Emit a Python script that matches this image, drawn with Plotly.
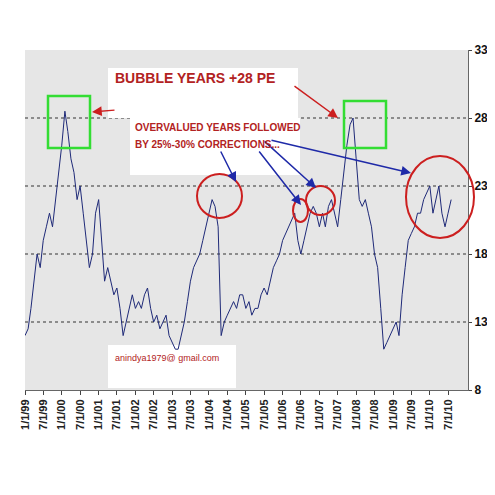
import plotly.graph_objects as go
import pandas as pd

pe = [12,12.5,14,16,18,17,19,20,21,20,22,24,
      26,28.5,27,25,24,22,23,21,19,17,18,21,
      22,19,16,17,16,15,15.5,14,12,13,14,15,
      14,14.5,14,15,15.5,14,13,13.5,12.5,13,13.5,12,
      11.5,11,11,12,13,14.5,16,17,17.5,18,19,20,
      21,22,21.5,20,12,13,13.5,14,14.5,14,15,15,
      14,14.5,13.5,14,14,15,15.5,15,16,17,17.5,18,
      19,19.5,20,20.5,21,19,18,19,20,21,21.5,21,
      20,21,20,21.5,22,21,20,22,24,26,27.5,28,
      25,22,21.5,22,21,20,18,17,14,11,11.5,12,
      12.5,13,12,15,17,19,19.5,20,21,21,22,22.5,
      23,21,22,23,21,20,21,22]
dates = pd.date_range("1999-01-01", periods=len(pe), freq="MS")
tick_vals = pd.date_range("1999-01-01", "2010-07-01", freq="6MS")
tick_text = [f"<b>{d.month}/1/{d.strftime('%y')}</b>" for d in tick_vals]
y_ticks = [8, 13, 18, 23, 28, 33]
y_text = [f"<b>{v}</b>" for v in y_ticks]

L, R, T, B = 17, 460, 50, 390
def px(x): return (x - L) / (R - L)
def py(y): return (B - y) / (B - T)
XR, YR = "x domain", "y domain"

fig = go.Figure(go.Scatter(x=dates, y=pe, mode="lines", line=dict(color="#1f2a78", width=1)))
shapes = []
for v in [13, 18, 23, 28]:
    shapes.append(dict(type="line", xref=XR, yref="y", x0=0, x1=1, y0=v, y1=v,
                       line=dict(color="#333", width=1, dash="dot"), layer="below"))
def rect(x0, y0, x1, y1, **kw):
    shapes.append(dict(type="rect", xref=XR, yref=YR, x0=px(x0), x1=px(x1), y0=py(y1), y1=py(y0), **kw))
def circ(x0, y0, x1, y1):
    shapes.append(dict(type="circle", xref=XR, yref=YR, x0=px(x0), x1=px(x1), y0=py(y1), y1=py(y0),
                       line=dict(color="#cc1f1f", width=2)))
rect(100, 68, 290, 118, fillcolor="white", line=dict(width=0), layer="below")
rect(122, 118, 292, 175, fillcolor="white", line=dict(width=0), layer="below")
rect(100, 345, 228, 388, fillcolor="white", line=dict(width=0), layer="below")
rect(40, 96, 82, 148, line=dict(color="#33dd33", width=2.5))
rect(336, 101, 378, 148, line=dict(color="#33dd33", width=2.5))
circ(189, 174, 234, 218)
circ(285, 199, 300, 222)
circ(298, 186, 327, 215)
circ(398, 156, 466, 238)

anns = []
def arrow(x0, y0, x1, y1, color):
    anns.append(dict(xref=XR, yref=YR, x=px(x1), y=py(y1), ax=px(x0), ay=py(y0),
                     axref=XR, ayref=YR, showarrow=True, arrowhead=2, arrowsize=1.3,
                     arrowwidth=1.5, arrowcolor=color, text=""))
arrow(108, 110, 84, 112, "#cc1f1f")
arrow(285, 85, 330, 118, "#cc1f1f")
arrow(212, 150, 228, 182, "#1f2aa8")
arrow(250, 150, 293, 205, "#1f2aa8")
arrow(255, 140, 308, 188, "#1f2aa8")
arrow(262, 140, 403, 173, "#1f2aa8")
def text(x, y, t, size):
    anns.append(dict(xref=XR, yref=YR, x=px(x), y=py(y), text=t, showarrow=False,
                     xanchor="left", yanchor="middle",
                     font=dict(family="Liberation Sans Narrow, Arial Narrow, sans-serif", size=size, color="#b22222")))
text(105, 78, "<b>BUBBLE YEARS +28 PE</b>", 14)
text(125, 128, "<b>OVERVALUED YEARS FOLLOWED</b>", 10)
text(125, 144, "<b>BY 25%-30% CORRECTIONS...</b>", 10)
text(105, 358, "anindya1979@ gmail.com", 9)

fig.update_layout(width=495, height=495, margin=dict(l=L, r=495 - R, t=T - 8, b=495 - B + 8),
                  paper_bgcolor="white", plot_bgcolor="#e6e6e6", showlegend=False,
                  shapes=shapes, annotations=anns)
fig.update_xaxes(range=[pd.Timestamp("1999-01-01"), pd.Timestamp("2011-01-15")], tickvals=tick_vals,
                 ticktext=tick_text, tickangle=-90, showgrid=False, ticks="outside", ticklen=4,
                 showline=True, linecolor="#666",
                 tickfont=dict(family="Liberation Sans", size=11, color="#222"))
fig.update_yaxes(side="right", range=[8, 33], tickvals=y_ticks, ticktext=y_text, showgrid=False,
                 zeroline=False, showline=True, linecolor="#666", ticks="outside", ticklen=3,
                 tickfont=dict(family="Liberation Sans Narrow, Liberation Sans", size=12, color="#111"))
fig.write_html("out.html")
